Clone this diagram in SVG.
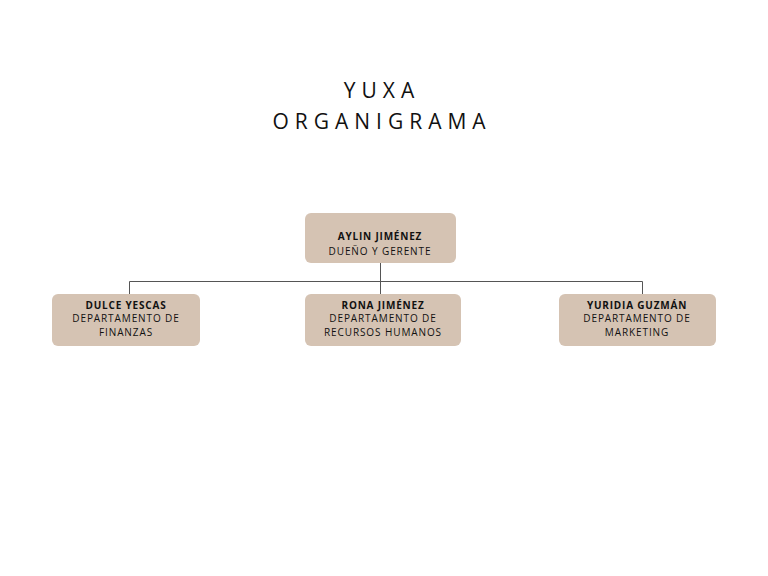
<svg xmlns="http://www.w3.org/2000/svg" width="768" height="576" viewBox="0 0 768 576">
<style>
.box{fill:#d5c3b3}
.t{font-family:"Open Sans",sans-serif;fill:#111;text-anchor:middle}
.title{font-size:21px;letter-spacing:6px}
.n{font-size:10px;font-weight:bold;letter-spacing:0.8px}
.s{font-size:10px;letter-spacing:0.9px}
.c{stroke:#555;stroke-width:1;fill:none}
</style>
<rect width="768" height="576" fill="#fff"/>
<text class="t title" x="382" y="98">YUXA</text>
<text class="t title" x="382" y="129">ORGANIGRAMA</text>
<g id="connectors">
<path class="c" d="M380.5 263V294M129.5 294V281.5H642.5V294"/>
</g>
<g id="aylin"><rect class="box" x="305" y="213" width="151" height="50" rx="6"/>
<text class="t n" x="380" y="240">AYLIN JIMÉNEZ</text><text class="t s" x="380" y="255">DUEÑO Y GERENTE</text></g>
<g id="dulce"><rect class="box" x="52" y="294" width="148" height="52" rx="6"/>
<text class="t n" x="126" y="309">DULCE YESCAS</text><text class="t s" x="126" y="322">DEPARTAMENTO DE</text><text class="t s" x="126" y="336">FINANZAS</text></g>
<g id="rona"><rect class="box" x="305" y="294" width="156" height="52" rx="6"/>
<text class="t n" x="383" y="309">RONA JIMÉNEZ</text><text class="t s" x="383" y="322">DEPARTAMENTO DE</text><text class="t s" x="383" y="336">RECURSOS HUMANOS</text></g>
<g id="yuridia"><rect class="box" x="559" y="294" width="157" height="52" rx="6"/>
<text class="t n" x="637" y="309">YURIDIA GUZMÁN</text><text class="t s" x="637" y="322">DEPARTAMENTO DE</text><text class="t s" x="637" y="336">MARKETING</text></g>
</svg>
